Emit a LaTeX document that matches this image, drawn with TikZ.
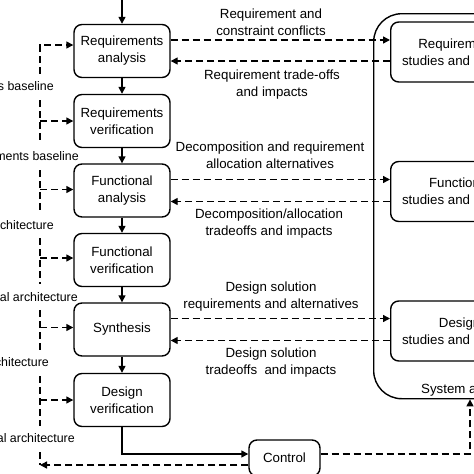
\documentclass[tikz,border=0pt]{standalone}
\usepackage{fontspec}
\setmainfont{Liberation Sans}
\usetikzlibrary{arrows.meta,calc}
\begin{document}
\begin{tikzpicture}[x=1pt,y=-1pt,
  font=\fontsize{13.3}{17}\selectfont,
  lw/.style={line width=1.4pt},
  proc/.style={draw,lw,rounded corners=8pt,minimum width=96pt,minimum height=53pt,inner sep=0pt,align=center},
  trade/.style={draw,lw,rounded corners=8pt,minimum width=172pt,minimum height=60pt,inner sep=0pt,align=center,anchor=west},
  lbl/.style={align=center,inner sep=0pt},
  side/.style={anchor=east,inner sep=0pt,minimum height=26pt,font=\fontsize{12.4}{14}\selectfont},
  tip/.style={-{Triangle[length=7pt,width=7pt]}},
  flow/.style={lw,tip},
  dsh/.style={lw,dash pattern=on 7pt off 4pt},
]
\useasboundingbox (0,0) rectangle (474,474);
\clip (0,0) rectangle (474,474);

% system analysis and control box
\node[draw,lw,rounded corners=28pt,minimum width=240pt,minimum height=385pt,anchor=north west,inner sep=0pt] (sys) at (373,13) {};
\node[anchor=west,inner sep=0pt] (syslbl) at (421,390) {System analysis and control};

% left process boxes
\node[proc] (ra) at (122,51) {Requirements\\analysis};
\node[proc] (rv) at (122,121) {Requirements\\verification};
\node[proc] (fa) at (122,190.5) {Functional\\analysis};
\node[proc] (fv) at (122,260) {Functional\\verification};
\node[proc] (sy) at (122,329.5) {Synthesis};
\node[proc] (dv) at (122,400) {Design\\verification};
\node[proc,minimum width=71pt,minimum height=36pt] (ctl) at (284.5,458) {Control};

% right trade boxes
\node[trade] (rt) at (390,52) {Requirements trade\\studies and assessments};
\node[trade] (ft) at (390,191.5) {Functional trade\\studies and assessments};
\node[trade] (dt) at (390,331) {Design trade\\studies and assessments};

% middle labels
\node[lbl] (l1) at (271,22) {Requirement and\\constraint conflicts};
\node[lbl] (l2) at (272,85) {Requirement trade-offs\\and impacts};
\node[lbl] (l3) at (270,155) {Decomposition and requirement\\allocation alternatives};
\node[lbl] (l4) at (269,223.5) {Decomposition/allocation\\tradeoffs and impacts};
\node[lbl] (l5) at (271,296.5) {Design solution\\requirements and alternatives};
\node[lbl] (l6) at (271,363) {Design solution\\tradeoffs\ \ and impacts};

% left side labels
\node[side] (s1) at (54,87) {Requirements baseline};
\node[side] (s2) at (79,157) {Validated requirements baseline};
\node[side] (s3) at (54,225) {Functional architecture};
\node[side] (s4) at (78,297) {Verified functional architecture};
\node[side] (s5) at (49,363) {Physical architecture};
\node[side] (s6) at (75,439) {Verified physical architecture};

\coordinate (sp) at (40,0);
\coordinate (src) at (122,-5);
\coordinate (sc) at (470,0);

% main flow
\draw[flow] (src) -- (ra.north);
\draw[flow] (ra) -- (rv);
\draw[flow] (rv) -- (fa);
\draw[flow] (fa) -- (fv);
\draw[flow] (fv) -- (sy);
\draw[flow] (sy) -- (dv);
\draw[flow] (dv.south) |- ([yshift=4pt]ctl.west);

% horizontal exchanges
\draw[dsh,tip] ([yshift=11pt]ra.east) -- ([yshift=11pt]ra.east -| rt.west);
\draw[dsh,tip] ([yshift=-10pt]ra.east -| rt.west) -- ([yshift=-10pt]ra.east);
\draw[dsh,tip] ([yshift=11pt]fa.east) -- ([yshift=11pt]fa.east -| ft.west);
\draw[dsh,tip] ([yshift=-11pt]fa.east -| ft.west) -- ([yshift=-11pt]fa.east);
\draw[dsh,tip] ([yshift=11pt]sy.east) -- ([yshift=11pt]sy.east -| dt.west);
\draw[dsh,tip] ([yshift=-11pt]sy.east -| dt.west) -- ([yshift=-11pt]sy.east);

% control feedback
\draw[dsh,tip] ([yshift=4pt]ctl.east) -| (sys.south -| sc);
\draw[dsh,tip] ([yshift=-7pt]ctl.west) -- ([yshift=-7pt]ctl.west -| sp);

% left spine
\draw[dsh,tip] (s1.north -| sp) |- ([yshift=6pt]ra.west);
\draw[dsh] (s1.south -| sp) -- (s2.north -| sp);
\draw[dsh] (s2.south -| sp) -- (s3.north -| sp);
\draw[dsh] (s3.south -| sp) -- (s4.north -| sp);
\draw[dsh] (s4.south -| sp) -- (s5.north -| sp);
\draw[dsh] (s5.south -| sp) -- (s6.north -| sp);
\draw[dsh] (s6.south -| sp) -- ([yshift=-7pt]ctl.west -| sp);
\draw[dsh,tip] (rv.west -| sp) -- (rv.west);
\draw[dsh,tip] ([yshift=1pt]fa.west -| sp) -- ([yshift=1pt]fa.west);
\draw[dsh,tip] ([yshift=2pt]fv.west -| sp) -- ([yshift=2pt]fv.west);
\draw[dsh,tip] ([yshift=2pt]sy.west -| sp) -- ([yshift=2pt]sy.west);
\draw[dsh,tip] (dv.west -| sp) -- (dv.west);
\end{tikzpicture}
\end{document}
